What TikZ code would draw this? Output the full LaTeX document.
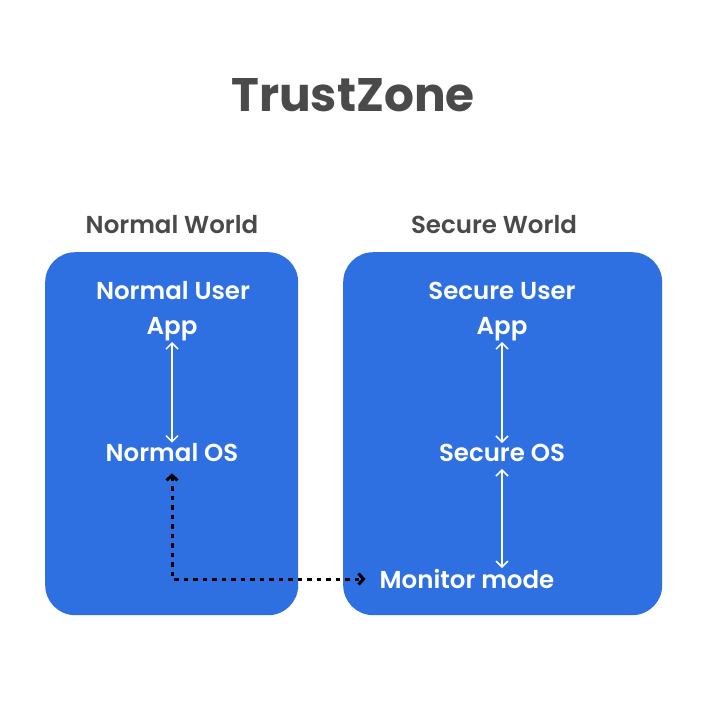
\documentclass[tikz,border=0pt]{standalone}
\usepackage{fontspec}
\setmainfont{Poppins}[BoldFont={Poppins SemiBold}]
\newfontfamily\titlefont{Poppins Bold}
\usetikzlibrary{arrows.meta}
\usetikzlibrary{positioning}
\definecolor{tzblue}{RGB}{46,112,226}
\definecolor{tzgray}{RGB}{74,74,74}
\tikzset{
    world/.style={
        rectangle, anchor=north west, rounded corners=30pt,
        fill=tzblue, draw=none,
    },
    inbox/.style={
        text=white, font=\bfseries\fontsize{24.5}{28}\selectfont,
        inner sep=1pt,
    },
    head/.style={
        text=tzgray, font=\bfseries\fontsize{24.5}{28}\selectfont,
    },
    duplex/.style={
        white, line width=1.5pt,
        {Straight Barb[length=6pt,width=12pt]}-{Straight Barb[length=6pt,width=12pt]},
    },
}
\begin{document}
\begin{tikzpicture}[x=1pt, y=-1pt]
        \useasboundingbox (0,0) rectangle (720,720);

        \node (title) at(353,95) [
            text=tzgray, font=\titlefont\fontsize{47}{56}\selectfont,
        ] {TrustZone};

        \node (normal) at(45,252) [
            world, minimum width=253pt, minimum height=363pt,
        ] {};
        \node (secure) at(343,252) [
            world, minimum width=319pt, minimum height=363pt,
        ] {};

        \node (normalhead) at(172,225) [head] {Normal World};
        \node (securehead) at(494,225) [head] {Secure World};

        \node (normaluser) at(173,291) [inbox] {Normal User};
        \node (normalapp) at(172,329) [inbox] {App};
        \node (normalos) at(172,453) [inbox] {Normal OS};

        \node (secureuser) at(502,291) [inbox] {Secure User};
        \node (secureapp) at(502,329) [inbox] {App};
        \node (secureos) at(502,453) [inbox] {Secure OS};
        \node (monitor) at(467,579) [inbox] {Monitor mode};

        \draw [duplex] (normalapp.south) -- (normalos.north);
        \draw [duplex] (secureapp.south) -- (secureos.north);
        \draw [duplex] ([yshift=-6pt]secureos.south) -- (monitor.north -| secureos.south);

        \draw [black, line width=3pt, dash pattern=on 4.5pt off 5pt,
               {Straight Barb[length=5pt,width=11pt]}-{Straight Barb[length=5pt,width=11pt]}]
            ([yshift=-10pt]normalos.south) |- ([xshift=-13pt]monitor.west);
    \end{tikzpicture}
\end{document}
